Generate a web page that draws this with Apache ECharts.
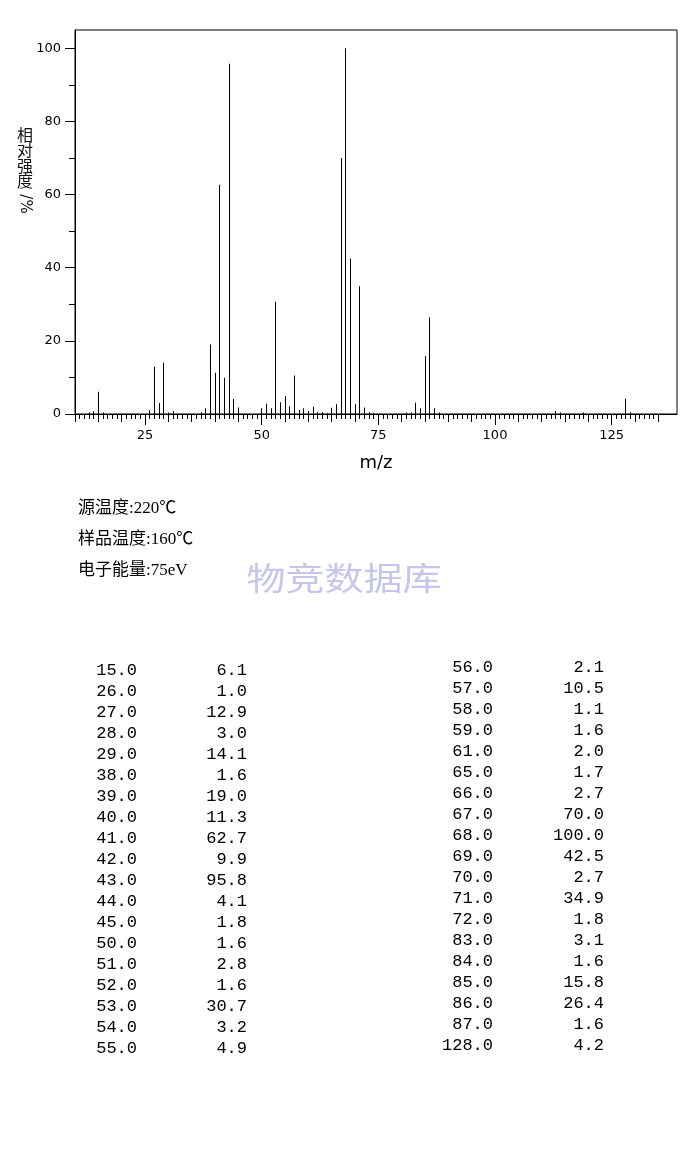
<!DOCTYPE html>
<html><head><meta charset="utf-8">
<script src="https://cdn.jsdelivr.net/npm/echarts@6/dist/echarts.min.js"></script>
<style>html,body{margin:0;padding:0;background:#fff}#c{width:687px;height:1162px}</style>
</head><body><div id="c"></div>
<script>
// Listed peaks (table)
const listedMz = [15, 26, 27, 28, 29, 38, 39, 40, 41, 42, 43, 44, 45, 50, 51, 52, 53, 54, 55,
                  56, 57, 58, 59, 61, 65, 66, 67, 68, 69, 70, 71, 72, 83, 84, 85, 86, 87, 128];
const listedIntensity = [6.1, 1.0, 12.9, 3.0, 14.1, 1.6, 19.0, 11.3, 62.7, 9.9, 95.8, 4.1, 1.8, 1.6, 2.8, 1.6, 30.7, 3.2, 4.9,
                  2.1, 10.5, 1.1, 1.6, 2.0, 1.7, 2.7, 70.0, 100.0, 42.5, 2.7, 34.9, 1.8, 3.1, 1.6, 15.8, 26.4, 1.6, 4.2];
// Small unlisted peaks visible in the plot
const minorMz = [13, 14, 16, 30, 31, 37, 60, 62, 63, 64, 73, 74, 81, 82, 88, 113, 114, 119, 129];
const minorIntensity = [0.4, 0.8, 0.4, 0.4, 0.8, 0.5, 0.8, 0.5, 0.5, 0.3, 0.5, 0.3, 0.4, 0.4, 0.4, 0.8, 0.4, 0.4, 0.5];

const xMin = 10, xMax = 139;
const xTickFirst = 10, xTickLast = 135;
const xLabelTicks = [25, 50, 75, 100, 125];
const yLabelTicks = [0, 20, 40, 60, 80, 100];
const yMinorTicks = [10, 30, 50, 70, 90];
const yMax = 105;

const xTitle = 'm/z';
const yTitle = '相对强度';
const yUnit = '/%';
const conditions = ['源温度:220℃', '样品温度:160℃', '电子能量:75eV'];
const watermark = '物竞数据库';

const xUnitTicks = [], xFiveTicks = [];
for (let v = xTickFirst; v <= xTickLast; v++) { xUnitTicks.push(v); if (v % 5 === 0) xFiveTicks.push(v); }

const peaks = listedMz.map((m, i) => [m, listedIntensity[i]])
  .concat(minorMz.map((m, i) => [m, minorIntensity[i]]));

const chart = echarts.init(document.getElementById('c'), null, {renderer: 'canvas'});

const baseX = {
  type: 'value', min: xMin, max: xMax, position: 'bottom', gridIndex: 0,
  splitLine: {show: false}
};
const axisFont = 'DejaVu Sans';

const graphics = [];
// y axis title
graphics.push({
  type: 'text', x: 25, y: 127,
  style: {text: yTitle.split('').join('\n'), fontSize: 16, lineHeight: 15.5, fontFamily: 'Noto Sans CJK SC',
          fill: '#111', align: 'center', verticalAlign: 'top'}
});
graphics.push({
  type: 'text', x: 25, y: 204, rotation: -Math.PI / 2,
  style: {text: yUnit, fontSize: 15, fontFamily: 'DejaVu Sans', fill: '#111', align: 'center', verticalAlign: 'middle'}
});
// conditions
conditions.forEach((t, i) => {
  graphics.push({
    type: 'text', x: 78, y: 509 + i * 31,
    style: {text: t, fontSize: 17, fontFamily: '"Liberation Serif", "Noto Sans CJK SC"', fill: '#000',
            align: 'left', verticalAlign: 'middle'}
  });
});
// watermark
graphics.push({
  type: 'text', x: 344, y: 578, scaleX: 1.22,
  style: {text: watermark, fontSize: 32, fontFamily: 'Noto Sans CJK SC', fill: '#c6c6ea',
          align: 'center', verticalAlign: 'middle'}
});
// table
const half = Math.ceil(listedMz.length / 2);
listedMz.forEach((m, i) => {
  const col = i < half ? 0 : 1;
  const row = col === 0 ? i : i - half;
  const y = (col === 0 ? 670 : 667) + row * 21;
  const xm = col === 0 ? 137 : 493;
  const xi = col === 0 ? 247 : 604;
  const st = {fontSize: 17, fontFamily: '"Liberation Mono", "DejaVu Sans Mono", monospace', fill: '#000',
              align: 'right', verticalAlign: 'middle'};
  graphics.push({type: 'text', x: xm, y: y, style: Object.assign({text: m.toFixed(1)}, st)});
  graphics.push({type: 'text', x: xi, y: y, style: Object.assign({text: listedIntensity[i].toFixed(1)}, st)});
});

chart.setOption({
  animation: false,
  backgroundColor: '#fff',
  grid: {left: 75, right: 10, top: 30, bottom: 748, show: true, borderColor: '#000', borderWidth: 1,
         containLabel: false},
  xAxis: [
    Object.assign({}, baseX, {
      axisLine: {show: true, lineStyle: {color: '#000', width: 1}},
      axisTick: {show: true, length: 11, customValues: xLabelTicks, lineStyle: {color: '#000'}},
      axisLabel: {show: true, customValues: xLabelTicks, margin: 15, fontSize: 13, color: '#000', fontFamily: axisFont},
      name: xTitle, nameLocation: 'middle', nameGap: 40,
      nameTextStyle: {fontSize: 18, color: '#000', fontFamily: axisFont}
    }),
    Object.assign({}, baseX, {
      axisLine: {show: false},
      axisTick: {show: true, length: 8, customValues: xFiveTicks, lineStyle: {color: '#000'}},
      axisLabel: {show: false}
    }),
    Object.assign({}, baseX, {
      axisLine: {show: false},
      axisTick: {show: true, length: 5, customValues: xUnitTicks, lineStyle: {color: '#000'}},
      axisLabel: {show: false}
    })
  ],
  yAxis: [
    {
      type: 'value', min: 0, max: yMax, position: 'left', splitLine: {show: false},
      axisLine: {show: true, lineStyle: {color: '#000'}},
      axisTick: {show: true, length: 10, customValues: yLabelTicks, lineStyle: {color: '#000'}},
      axisLabel: {show: true, customValues: yLabelTicks, margin: 14, fontSize: 13, color: '#000', fontFamily: axisFont}
    },
    {
      type: 'value', min: 0, max: yMax, position: 'left', splitLine: {show: false},
      axisLine: {show: false},
      axisTick: {show: true, length: 6, customValues: yMinorTicks, lineStyle: {color: '#000'}},
      axisLabel: {show: false}
    }
  ],
  series: [{
    type: 'custom', xAxisIndex: 0, yAxisIndex: 0,
    data: peaks,
    renderItem: function (params, api) {
      const base = api.coord([api.value(0), 0]);
      const top = api.coord([api.value(0), api.value(1)]);
      const x = Math.round(base[0] - 0.5);
      return {type: 'rect', shape: {x: x, y: top[1], width: 1, height: base[1] - top[1]},
              style: {fill: '#000'}};
    }
  }],
  graphic: graphics
});
</script>
</body></html>
